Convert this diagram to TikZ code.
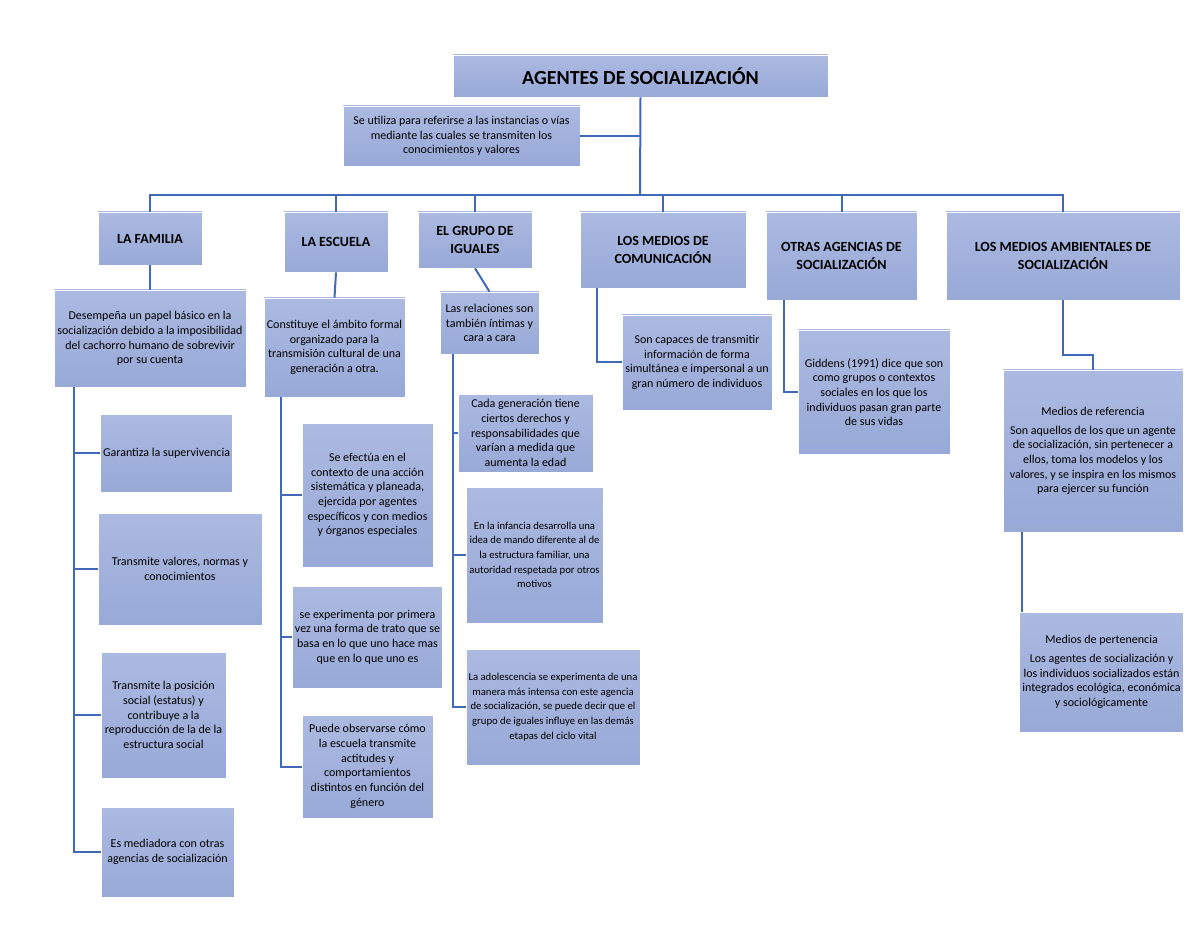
\documentclass[tikz,border=0pt]{standalone}
\usepackage{fontspec}
\setmainfont{Carlito}
\begin{document}
\begin{tikzpicture}[x=0.75pt,y=-0.75pt,
  box/.style={rectangle,top color=boxtop,bottom color=boxbot,draw=white,line width=0.5pt,align=center,inner sep=2pt,font=\fontsize{9}{11}\selectfont},
  hdr/.style={box,font=\bfseries\fontsize{10.5}{13}\selectfont},
  ln/.style={draw=lnc,line width=1.5pt}]
\definecolor{boxtop}{HTML}{ACBAE1}
\definecolor{boxbot}{HTML}{98A9D7}
\definecolor{lnc}{HTML}{4169B8}
\useasboundingbox (0,0) rectangle (1200,927);
\newcommand\bx[7]{\node[#1,minimum width={(#5-#3)*0.75pt},minimum height={(#6-#4)*0.75pt}] (#2) at ({(#3+#5)/2},{(#4+#6)/2}) {#7};}
\bx{hdr}{title}{453}{55}{828}{97}{\fontsize{15}{18}\selectfont AGENTES DE SOCIALIZACIÓN}
\bx{box}{def}{343}{106}{580}{166}{Se utiliza para referirse a las instancias o vías\\ mediante las cuales se transmiten los\\ conocimientos y valores}
\bx{hdr}{fam}{98}{212}{202}{265}{LA FAMILIA}
\bx{hdr}{esc}{284}{212}{388}{272}{LA ESCUELA}
\bx{hdr}{gru}{418}{212}{532}{268}{EL GRUPO DE\\ IGUALES}
\bx{hdr}{med}{580}{212}{746}{288}{LOS MEDIOS DE\\ COMUNICACIÓN}
\bx{hdr}{otr}{766}{212}{917}{300}{OTRAS AGENCIAS DE\\ SOCIALIZACIÓN}
\bx{hdr}{amb}{946}{212}{1180}{300}{LOS MEDIOS AMBIENTALES DE\\ SOCIALIZACIÓN}
% familia
\bx{box}{famd}{54}{290}{246}{387}{Desempeña un papel básico en la\\ socialización debido a la imposibilidad\\ del cachorro humano de sobrevivir\\ por su cuenta}
\bx{box}{f1}{101}{414}{232}{492}{Garantiza la supervivencia}
\bx{box}{f2}{98}{513}{262}{625}{Transmite valores, normas y\\ conocimientos}
\bx{box}{f3}{101}{652}{226}{778}{Transmite la posición\\ social (estatus) y\\ contribuye a la\\ reproducción de la de la\\ estructura social}
\bx{box}{f4}{101}{807}{234}{897}{Es mediadora con otras\\ agencias de socialización}
% escuela
\bx{box}{escd}{265}{298}{404}{397}{Constituye el ámbito formal\\ organizado para la\\ transmisión cultural de una\\ generación a otra.}
\bx{box}{e1}{302}{423}{433}{567}{Se efectúa en el\\ contexto de una acción\\ sistemática y planeada,\\ ejercida por agentes\\ específicos y con medios\\ y órganos especiales}
\bx{box}{e2}{302}{586}{433}{688}{se experimenta por primera\\ vez una forma de trato que se\\ basa en lo que uno hace mas\\ que en lo que uno es}
\bx{box}{e3}{302}{715}{433}{818}{Puede observarse cómo\\ la escuela transmite\\ actitudes y\\ comportamientos\\ distintos en función del\\ género}
% grupo
\bx{box}{grd}{440}{292}{539}{354}{Las relaciones son\\ también íntimas y\\ cara a cara}
\bx{box}{g1}{458}{394}{593}{472}{Cada generación tiene\\ ciertos derechos y\\ responsabilidades que\\ varían a medida que\\ aumenta la edad}
\bx{box}{g2}{466}{487}{603}{623}{\fontsize{8}{10}\selectfont En la infancia desarrolla una\\ \fontsize{8}{10}\selectfont idea de mando diferente al de\\ \fontsize{8}{10}\selectfont la estructura familiar, una\\ \fontsize{8}{10}\selectfont autoridad respetada por otros\\ \fontsize{8}{10}\selectfont motivos}
\bx{box}{g3}{466}{649}{640}{765}{\fontsize{8}{10}\selectfont La adolescencia se experimenta de una\\ \fontsize{8}{10}\selectfont manera más intensa con este agencia\\ \fontsize{8}{10}\selectfont de socialización, se puede decir que el\\ \fontsize{8}{10}\selectfont grupo de iguales influye en las demás\\ \fontsize{8}{10}\selectfont etapas del ciclo vital}
% medios
\bx{box}{medd}{622}{315}{772}{410}{Son capaces de transmitir\\ información de forma\\ simultánea e impersonal a un\\ gran número de individuos}
\bx{box}{otrd}{798}{330}{950}{454}{Giddens (1991) dice que son\\ como grupos o contextos\\ sociales en los que los\\ individuos pasan gran parte\\ de sus vidas}
\bx{box}{mref}{1003}{370}{1183}{532}{Medios de referencia\\[3pt] Son aquellos de los que un agente\\ de socialización, sin pertenecer a\\ ellos, toma los modelos y los\\ valores, y se inspira en los mismos\\ para ejercer su función}
\bx{box}{mper}{1020}{612}{1183}{732}{Medios de pertenencia\\[3pt] Los agentes de socialización y\\ los individuos socializados están\\ integrados ecológica, económica\\ y sociológicamente}
% connectors
\coordinate (hub) at (640,195);
\draw[ln] (title.south) -- (hub);
\draw[ln] (def.east) -- (def.east -| hub);
\draw[ln] (fam.north) |- (hub) -| (amb.north);
\foreach \n in {esc,gru,med,otr} \draw[ln] (\n.north) -- (\n.north |- hub);
\draw[ln] (fam.south) -- (famd.north);
\draw[ln] (esc.south) -- (escd.north);
\draw[ln] (gru.south) -- (grd.north);
\draw[ln] (famd.south west) ++(20,0) -- ++(0,466);
\foreach \n in {f1,f2,f3,f4} \draw[ln] (famd.south west) ++(20,0) |- (\n.west);
\draw[ln] (escd.south west) ++(17,0) -- ++(0,369);
\draw[ln] (escd.south west) ++(17,0) |- (e1.west);
\draw[ln] (escd.south west) ++(17,0) |- (e2.west);
\draw[ln] (escd.south west) ++(17,0) |- (e3.west);
\draw[ln] (grd.south west) ++(13,0) |- (g1.west);
\draw[ln] (grd.south west) ++(13,0) |- (g2.west);
\draw[ln] (grd.south west) ++(13,0) |- (g3.west);
\draw[ln] (med.south west) ++(17,0) |- (medd.west);
\draw[ln] (otr.south west) ++(18,0) |- (otrd.west);
\draw[ln] (amb.south) -- ++(0,55) -| (mref.north);
\draw[ln] (mref.south west) ++(19,0) -- ++(0,80);
\end{tikzpicture}
\end{document}
